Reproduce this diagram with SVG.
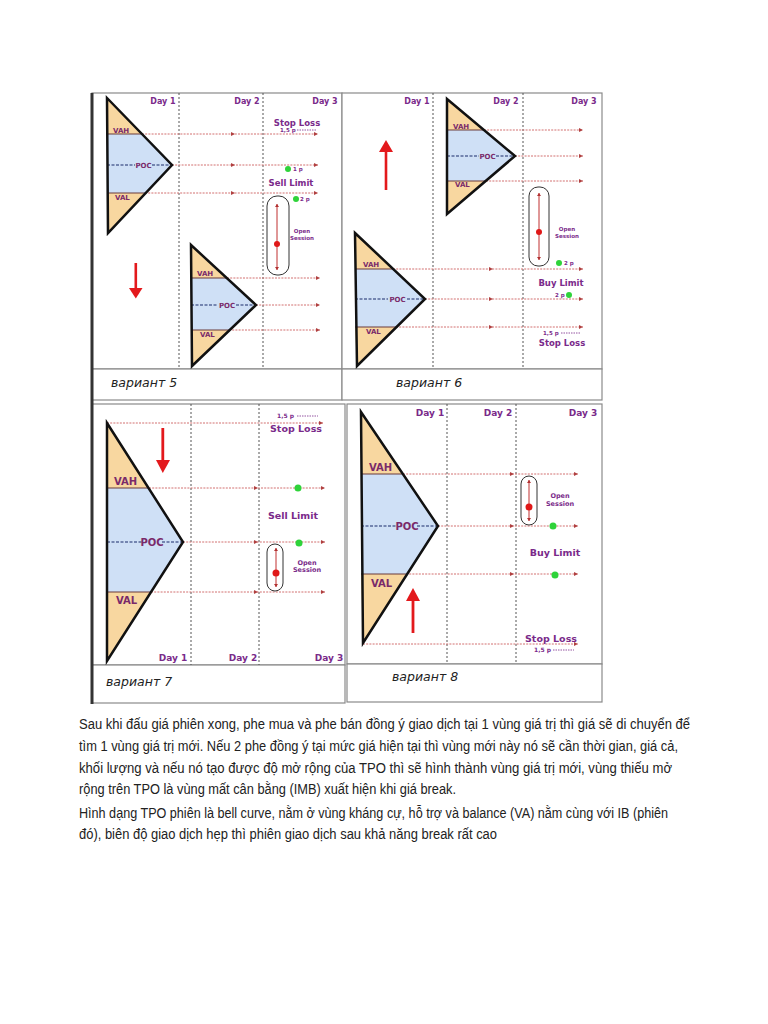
<svg xmlns="http://www.w3.org/2000/svg" width="768" height="1024" viewBox="0 0 768 1024">
<style>
.frame{fill:#fff;stroke:#8a8a8a;stroke-width:1.2}
.day{stroke:#555;stroke-width:1;stroke-dasharray:2 2;fill:none}
.dl{font-family:"DejaVu Sans",sans-serif;font-weight:bold;fill:#7a2a8a;text-anchor:middle}
.lbl{font-family:"DejaVu Sans",sans-serif;font-weight:bold;fill:#7a2a6a}
.tan{fill:#f8d7a0}
.blue{fill:#cfe0f6}
.tri{fill:none;stroke:#111;stroke-width:2.5;stroke-linejoin:miter}
.va{stroke:#6a3b3b;stroke-width:1.2}
.poc{stroke:#1a2a6a;stroke-width:1.2;stroke-dasharray:3 1.5}
.red{stroke:#d27070;stroke-width:1;stroke-dasharray:2 1.2;fill:none}
.cap{font-family:"DejaVu Sans",sans-serif;font-style:italic;fill:#222;font-size:12.5px}
.body{font-family:"Liberation Sans",Arial,sans-serif;fill:#222;font-size:14px}
.g{fill:#2fd33a}
.rd{fill:#e01818}
.os{fill:none;stroke:#333;stroke-width:1}
.vl{stroke:#c03030;stroke-width:1}
.arrow{fill:#e3191c}
.sm{font-family:"DejaVu Sans",sans-serif;font-weight:bold;fill:#7a2a8a}
</style>
<defs>
<marker id="ah" markerWidth="5" markerHeight="4" refX="4" refY="2" orient="auto" markerUnits="userSpaceOnUse"><path d="M0,0 L4,2 L0,4 z" fill="#b04040"/></marker>
<marker id="ahs" markerWidth="4" markerHeight="4" refX="3" refY="2" orient="auto-start-reverse" markerUnits="userSpaceOnUse"><path d="M0,0 L3,2 L0,4 z" fill="#b03030"/></marker>
</defs>
<rect x="0" y="0" width="768" height="1024" fill="#fff"/>

<!-- panel frames -->
<g id="panel5">
<rect class="frame" x="92" y="93" width="250" height="276"/>
<rect class="frame" x="92" y="369" width="250" height="31"/>
<line class="day" x1="179" y1="93" x2="179" y2="369"/>
<line class="day" x1="263" y1="93" x2="263" y2="369"/>
<text class="dl" x="163" y="104" font-size="8">Day 1</text>
<text class="dl" x="247" y="104" font-size="8">Day 2</text>
<text class="dl" x="325" y="104" font-size="8">Day 3</text>
<text class="cap" x="111" y="387">вариант 5</text>
</g>
<g id="panel6">
<rect class="frame" x="342" y="93" width="260" height="276"/>
<rect class="frame" x="342" y="369" width="260" height="31"/>
<line class="day" x1="433" y1="93" x2="433" y2="369"/>
<line class="day" x1="523" y1="93" x2="523" y2="369"/>
<text class="dl" x="417" y="104" font-size="8">Day 1</text>
<text class="dl" x="506" y="104" font-size="8">Day 2</text>
<text class="dl" x="584" y="104" font-size="8">Day 3</text>
<text class="cap" x="396" y="387">вариант 6</text>
</g>
<g id="panel7">
<rect class="frame" x="92" y="404" width="253" height="261"/>
<rect class="frame" x="92" y="665" width="253" height="38"/>
<line class="day" x1="191" y1="404" x2="191" y2="665"/>
<line class="day" x1="259" y1="404" x2="259" y2="665"/>
<text class="dl" x="173" y="661" font-size="9">Day 1</text>
<text class="dl" x="243" y="661" font-size="9">Day 2</text>
<text class="dl" x="329" y="661" font-size="9">Day 3</text>
<text class="cap" x="106" y="686">вариант 7</text>
</g>
<g id="panel8">
<rect class="frame" x="347" y="404" width="255" height="260"/>
<rect class="frame" x="347" y="664" width="255" height="38"/>
<line class="day" x1="447" y1="404" x2="447" y2="664"/>
<line class="day" x1="516" y1="404" x2="516" y2="664"/>
<text class="dl" x="430" y="416" font-size="9">Day 1</text>
<text class="dl" x="498" y="416" font-size="9">Day 2</text>
<text class="dl" x="583" y="416" font-size="9">Day 3</text>
<text class="cap" x="392" y="681">вариант 8</text>
</g>
<line x1="92" y1="93" x2="92" y2="704" stroke="#333" stroke-width="3"/>

<!-- connectors -->
<g id="connectors">
<!-- panel 5 -->
<path class="red" d="M142,134 L235,134 L318,134" marker-mid="url(#ah)" marker-end="url(#ah)"/>
<path class="red" d="M172,165 L235,165 L318,165" marker-mid="url(#ah)" marker-end="url(#ah)"/>
<path class="red" d="M145,193 L235,193 L318,193" marker-mid="url(#ah)" marker-end="url(#ah)"/>
<path class="red" d="M227,278 L320,278" marker-end="url(#ah)"/>
<path class="red" d="M256,305 L320,305" marker-end="url(#ah)"/>
<path class="red" d="M229,330 L320,330" marker-end="url(#ah)"/>
<!-- panel 6 -->
<path class="red" d="M484,130 L583,130" marker-end="url(#ah)"/>
<path class="red" d="M515,156 L583,156" marker-end="url(#ah)"/>
<path class="red" d="M486,181 L583,181" marker-end="url(#ah)"/>
<path class="red" d="M393,269 L493,269 L583,269" marker-mid="url(#ah)" marker-end="url(#ah)"/>
<path class="red" d="M425,299 L493,299 L583,299" marker-mid="url(#ah)" marker-end="url(#ah)"/>
<path class="red" d="M396,327 L493,327 L583,327" marker-mid="url(#ah)" marker-end="url(#ah)"/>
<!-- panel 7 -->
<path class="red" d="M107,423 L323,423" marker-end="url(#ah)"/>
<path class="red" d="M149,488 L258,488 L325,488" marker-mid="url(#ah)" marker-end="url(#ah)"/>
<path class="red" d="M183,542 L258,542 L325,542" marker-mid="url(#ah)" marker-end="url(#ah)"/>
<path class="red" d="M151,592 L258,592 L325,592" marker-mid="url(#ah)" marker-end="url(#ah)"/>
<!-- panel 8 -->
<path class="red" d="M403,474 L514,474 L578,474" marker-mid="url(#ah)" marker-end="url(#ah)"/>
<path class="red" d="M438,526 L514,526 L578,526" marker-mid="url(#ah)" marker-end="url(#ah)"/>
<path class="red" d="M406,574 L514,574 L578,574" marker-mid="url(#ah)" marker-end="url(#ah)"/>
<path class="red" d="M363,644 L578,644" marker-end="url(#ah)"/>
</g>

<!-- Panel 5 triangle 1 -->
<g id="p5-tpo1">
<polygon class="tan" points="107,98 142,134 107,134"/>
<polygon class="blue" points="107,134 142,134 172,165 145,193 107,193"/>
<polygon class="tan" points="107,193 145,193 107,233"/>
<line class="va" x1="107" y1="134" x2="142" y2="134"/>
<line class="va" x1="107" y1="193" x2="145" y2="193"/>
<line class="poc" x1="107" y1="165" x2="135" y2="165"/>
<line class="poc" x1="152" y1="165" x2="172" y2="165"/>
<polygon class="tri" points="107,98 172,165 108,233"/>
<text class="lbl" x="113" y="133" font-size="7">VAH</text>
<text class="lbl" x="143.5" y="167.5" font-size="7" text-anchor="middle">POC</text>
<text class="lbl" x="115" y="200" font-size="7">VAL</text>
</g>
<g id="p5-tpo2">
<polygon class="tan" points="191,245 227,278 191,278"/>
<polygon class="blue" points="191,278 227,278 256,305 229,330 191,330"/>
<polygon class="tan" points="191,330 229,330 192,366"/>
<line class="va" x1="191" y1="278" x2="227" y2="278"/>
<line class="va" x1="191" y1="330" x2="229" y2="330"/>
<line class="poc" x1="191" y1="305" x2="218" y2="305"/>
<line class="poc" x1="236" y1="305" x2="256" y2="305"/>
<polygon class="tri" points="191,245 256,305 192,366"/>
<text class="lbl" x="197" y="276" font-size="7">VAH</text>
<text class="lbl" x="227" y="307.5" font-size="7" text-anchor="middle">POC</text>
<text class="lbl" x="200" y="337" font-size="7">VAL</text>
</g>
<g id="p5-orders">
<text class="sm" x="297" y="126" font-size="8.5" text-anchor="middle">Stop Loss</text>
<text class="sm" x="280" y="132" font-size="5.5">1,5 p</text>
<line x1="297" y1="130" x2="316" y2="130" stroke="#7a2a8a" stroke-width="0.8" stroke-dasharray="1.5 1"/>
<circle class="g" cx="288" cy="169" r="3"/>
<text class="sm" x="293" y="171" font-size="5.5">1 p</text>
<text class="sm" x="291" y="186" font-size="8.5" text-anchor="middle">Sell Limit</text>
<circle class="g" cx="296" cy="199" r="3"/>
<text class="sm" x="300" y="201" font-size="5.5">2 p</text>
</g>
<g id="p5-open">
<rect class="os" x="267" y="196" width="22" height="79" rx="10"/>
<line class="vl" x1="277" y1="204" x2="277" y2="270" marker-start="url(#ahs)" marker-end="url(#ahs)"/>
<circle class="rd" cx="277" cy="244" r="3"/>
<text class="sm" x="302" y="233" font-size="5.5" text-anchor="middle">Open</text>
<text class="sm" x="302" y="240" font-size="5.5" text-anchor="middle">Session</text>
</g>
<g id="p5-arrow">
<rect class="arrow" x="134.5" y="263" width="2.6" height="27"/>
<polygon class="arrow" points="129,288 142.5,288 135.8,298.5"/>
</g>

<!-- Panel 6 -->
<g id="p6-tpo1">
<polygon class="tan" points="447,99 484,130 447,130"/>
<polygon class="blue" points="447,130 484,130 515,156 486,181 447,181"/>
<polygon class="tan" points="447,181 486,181 447,214"/>
<line class="va" x1="447" y1="130" x2="484" y2="130"/>
<line class="va" x1="447" y1="181" x2="486" y2="181"/>
<line class="poc" x1="447" y1="156" x2="479" y2="156"/>
<line class="poc" x1="496" y1="156" x2="515" y2="156"/>
<polygon class="tri" points="447,99 515,156 447,214"/>
<text class="lbl" x="453" y="128.5" font-size="7">VAH</text>
<text class="lbl" x="487.5" y="158.5" font-size="7" text-anchor="middle">POC</text>
<text class="lbl" x="455" y="187" font-size="7">VAL</text>
</g>
<g id="p6-tpo2">
<polygon class="tan" points="355,233 393,269 355,269"/>
<polygon class="blue" points="355,269 393,269 425,299 396,327 355,327"/>
<polygon class="tan" points="355,327 396,327 357,366"/>
<line class="va" x1="355" y1="269" x2="393" y2="269"/>
<line class="va" x1="355" y1="327" x2="396" y2="327"/>
<line class="poc" x1="355" y1="299" x2="388" y2="299"/>
<line class="poc" x1="407" y1="299" x2="425" y2="299"/>
<polygon class="tri" points="355,233 425,299 357,366"/>
<text class="lbl" x="363" y="267" font-size="7">VAH</text>
<text class="lbl" x="397.5" y="301.5" font-size="7" text-anchor="middle">POC</text>
<text class="lbl" x="366" y="334" font-size="7">VAL</text>
</g>
<g id="p6-arrow">
<rect class="arrow" x="384.7" y="150" width="2.6" height="40"/>
<polygon class="arrow" points="379,152 393,152 386,140"/>
</g>
<g id="p6-open">
<rect class="os" x="529" y="187" width="20" height="79" rx="9"/>
<line class="vl" x1="539" y1="193" x2="539" y2="260" marker-start="url(#ahs)" marker-end="url(#ahs)"/>
<circle class="rd" cx="539" cy="232" r="3"/>
<text class="sm" x="567" y="231" font-size="5.5" text-anchor="middle">Open</text>
<text class="sm" x="567" y="238" font-size="5.5" text-anchor="middle">Session</text>
</g>
<g id="p6-orders">
<circle class="g" cx="559" cy="263" r="3"/>
<text class="sm" x="564" y="265" font-size="5.5">2 p</text>
<text class="sm" x="561" y="286" font-size="8.5" text-anchor="middle">Buy Limit</text>
<text class="sm" x="555" y="297" font-size="5.5">2 p</text>
<circle class="g" cx="569" cy="295" r="3"/>
<text class="sm" x="543" y="335" font-size="5.5">1,5 p</text>
<line x1="561" y1="333" x2="580" y2="333" stroke="#7a2a8a" stroke-width="0.8" stroke-dasharray="1.5 1"/>
<text class="sm" x="562" y="345.5" font-size="8.5" text-anchor="middle">Stop Loss</text>
</g>

<!-- Panel 7 -->
<g id="p7-tpo">
<polygon class="tan" points="107,423 149,488 107,488"/>
<polygon class="blue" points="107,488 149,488 183,542 151,592 107,592"/>
<polygon class="tan" points="107,592 151,592 107,661"/>
<line class="va" x1="107" y1="488" x2="149" y2="488"/>
<line class="va" x1="107" y1="592" x2="151" y2="592"/>
<line class="poc" x1="107" y1="542" x2="142" y2="542"/>
<line class="poc" x1="162" y1="542" x2="183" y2="542"/>
<polygon class="tri" points="107,423 183,542 107,661"/>
<text class="lbl" x="114" y="485" font-size="10">VAH</text>
<text class="lbl" x="152" y="546" font-size="10" text-anchor="middle">POC</text>
<text class="lbl" x="116" y="604" font-size="10">VAL</text>
</g>
<g id="p7-arrow">
<rect class="arrow" x="161.4" y="428" width="2.8" height="34"/>
<polygon class="arrow" points="156,460 170,460 162.8,473"/>
</g>
<g id="p7-orders">
<text class="sm" x="277" y="418" font-size="6">1,5 p</text>
<line x1="297" y1="416" x2="318" y2="416" stroke="#7a2a8a" stroke-width="0.8" stroke-dasharray="1.5 1"/>
<text class="sm" x="296" y="431.5" font-size="9.5" text-anchor="middle">Stop Loss</text>
<circle class="g" cx="298" cy="488" r="3.5"/>
<text class="sm" x="293" y="518.5" font-size="9.5" text-anchor="middle">Sell Limit</text>
<circle class="g" cx="299" cy="543" r="3.5"/>
</g>
<g id="p7-open">
<rect class="os" x="267" y="544" width="16" height="47" rx="8"/>
<line class="vl" x1="276" y1="548" x2="276" y2="587" marker-start="url(#ahs)" marker-end="url(#ahs)"/>
<circle class="rd" cx="276" cy="573" r="3.5"/>
<text class="sm" x="307" y="564.5" font-size="6.5" text-anchor="middle">Open</text>
<text class="sm" x="307" y="572" font-size="6.5" text-anchor="middle">Session</text>
</g>

<!-- Panel 8 -->
<g id="p8-tpo">
<polygon class="tan" points="361,412 403,474 361,474"/>
<polygon class="blue" points="361,474 403,474 438,526 406,574 361,574"/>
<polygon class="tan" points="361,574 406,574 363,643"/>
<line class="va" x1="361" y1="474" x2="403" y2="474"/>
<line class="va" x1="361" y1="574" x2="406" y2="574"/>
<line class="poc" x1="361" y1="526" x2="397" y2="526"/>
<line class="poc" x1="417" y1="526" x2="438" y2="526"/>
<polygon class="tri" points="361,412 438,526 363,643"/>
<text class="lbl" x="369" y="471" font-size="10">VAH</text>
<text class="lbl" x="407" y="530" font-size="10" text-anchor="middle">POC</text>
<text class="lbl" x="371" y="587" font-size="10">VAL</text>
</g>
<g id="p8-arrow">
<rect class="arrow" x="411.6" y="598" width="2.8" height="35"/>
<polygon class="arrow" points="406,601 420,601 413,588"/>
</g>
<g id="p8-open">
<rect class="os" x="521" y="476" width="16" height="49" rx="8"/>
<line class="vl" x1="529" y1="480" x2="529" y2="521" marker-start="url(#ahs)" marker-end="url(#ahs)"/>
<circle class="rd" cx="529" cy="507" r="3.5"/>
<text class="sm" x="560" y="498" font-size="6.5" text-anchor="middle">Open</text>
<text class="sm" x="560" y="505.5" font-size="6.5" text-anchor="middle">Session</text>
</g>
<g id="p8-orders">
<circle class="g" cx="553" cy="526" r="3.5"/>
<text class="sm" x="555" y="555.5" font-size="9.5" text-anchor="middle">Buy Limit</text>
<circle class="g" cx="555" cy="575" r="3.5"/>
<text class="sm" x="551" y="641.5" font-size="9.5" text-anchor="middle">Stop Loss</text>
<text class="sm" x="534" y="652" font-size="6">1,5 p</text>
<line x1="553" y1="650" x2="574" y2="650" stroke="#7a2a8a" stroke-width="0.8" stroke-dasharray="1.5 1"/>
</g>

<!-- body text -->
<g id="text">
<text class="body" x="79" y="729" textLength="611" lengthAdjust="spacingAndGlyphs">Sau khi đấu giá phiên xong, phe mua và phe bán đồng ý giao dịch tại 1 vùng giá trị thì giá sẽ di chuyển để</text>
<text class="body" x="79" y="751" textLength="599" lengthAdjust="spacingAndGlyphs">tìm 1 vùng giá trị mới. Nếu 2 phe đồng ý tại mức giá hiện tại thì vùng mới này nó sẽ cần thời gian, giá cả,</text>
<text class="body" x="79" y="773" textLength="593" lengthAdjust="spacingAndGlyphs">khối lượng và nếu nó tạo được độ mở rộng của TPO thì sẽ hình thành vùng giá trị mới, vùng thiếu mở</text>
<text class="body" x="79" y="794" textLength="377" lengthAdjust="spacingAndGlyphs">rộng trên TPO là vùng mất cân bằng (IMB) xuất hiện khi giá break.</text>
<text class="body" x="79" y="818" textLength="589" lengthAdjust="spacingAndGlyphs">Hình dạng TPO phiên là bell curve, nằm ở vùng kháng cự, hỗ trợ và balance (VA) nằm cùng với IB (phiên</text>
<text class="body" x="79" y="839" textLength="418" lengthAdjust="spacingAndGlyphs">đó), biên độ giao dịch hẹp thì phiên giao dịch sau khả năng break rất cao</text>
</g>
</svg>
